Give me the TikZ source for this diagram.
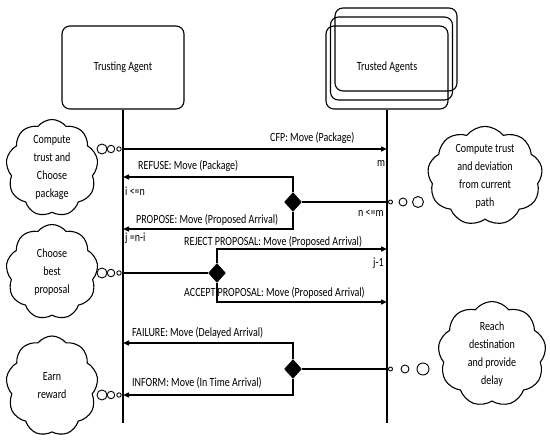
\documentclass[tikz,border=0pt]{standalone}
\usepackage{fontspec}
\setmainfont[FakeStretch=0.8]{Carlito}
\usetikzlibrary{arrows.meta,positioning,shapes.geometric,shapes.symbols}

\begin{document}
\begin{tikzpicture}[
        x=1pt, y=-1pt,
        font=\fontsize{12.5}{18}\selectfont,
        agent/.style={rectangle, rounded corners=8pt, draw, line width=1.1pt,
          minimum width=122pt, minimum height=83pt},
        life/.style={line width=1.2pt},
        msg/.style={line width=1.4pt, -{Triangle[length=6pt,width=5pt]}},
        link/.style={line width=1.4pt},
        choice/.style={diamond, draw, fill=black, inner sep=0pt,
          minimum width=17pt, minimum height=19pt},
        thought/.style={cloud, cloud puffs=9, cloud puff arc=105, cloud ignores aspect,
          draw, line width=1.1pt, align=center, inner sep=0pt},
        bub/.style={circle, draw, line width=0.9pt, inner sep=0pt},
        lbl/.style={anchor=west, inner sep=0pt}
      ]
        \useasboundingbox (0,0) rectangle (550,447);
        \node[agent] (trusting) at (123,67.5) {Trusting Agent};
        \node[agent] (trusted3) at (396,49.5) {};
        \node[agent] (trusted2) at (391.5,58.5) {};
        \node[agent] (trusted) at (387,67.5) {Trusted Agents};
        \coordinate (tend) at (123,423);
        \coordinate (dend) at (387,423);
        \draw[life] (trusting.south) -- (tend);
        \draw[life] (trusted.south) -- (dend);

        \node[choice] (d1) at (293,202) {};
        \node[choice] (d2) at (217,273) {};
        \node[choice] (d3) at (293,369) {};

        \coordinate (cfpL) at (123,149);
        \coordinate (cfpR) at (387,149);
        \coordinate (refL) at (123,177);
        \coordinate (d1R) at (387,202);
        \coordinate (propL) at (123,229);
        \coordinate (rejR) at (387,249);
        \coordinate (d2L) at (123,273);
        \coordinate (accR) at (387,302);
        \coordinate (failL) at (123,343);
        \coordinate (d3R) at (387,369);
        \coordinate (infL) at (123,395);

        \draw[msg] (cfpL) -- (cfpR);
        \draw[msg] (d1.north) |- (refL);
        \draw[msg] (d1.south) |- (propL);
        \draw[link] (d1.east) -- (d1R);
        \draw[msg] (d2.north) |- (rejR);
        \draw[msg] (d2.south) |- (accR);
        \draw[link] (d2L) -- (d2.west);
        \draw[msg] (d3.north) |- (failL);
        \draw[msg] (d3.south) |- (infL);
        \draw[link] (d3.east) -- (d3R);

        \node[lbl] (cfp) at (270,138) {CFP: Move (Package)};
        \node[lbl] (m) at (377,163) {m};
        \node[lbl] (refuse) at (138,166) {REFUSE: Move (Package)};
        \node[lbl] (iltn) at (125,191) {i <=n};
        \node[lbl] (nltm) at (358,213) {n <=m};
        \node[lbl] (propose) at (136,220) {PROPOSE: Move (Proposed Arrival)};
        \node[lbl] (jni) at (125,238) {j =n-i};
        \node[lbl] (reject) at (184,242) {REJECT PROPOSAL: Move (Proposed Arrival)};
        \node[lbl] (jm1) at (373,263) {j-1};
        \node[lbl] (accept) at (184,293) {ACCEPT PROPOSAL: Move (Proposed Arrival)};
        \node[lbl] (failure) at (132,333) {FAILURE: Move (Delayed Arrival)};
        \node[lbl] (inform) at (132,383) {INFORM: Move (In Time Arrival)};

        \node[bub, minimum size=4.4pt] (b1a) at (119,149) {};
        \node[bub, minimum size=7.5pt] (b1b) at (111,149) {};
        \node[bub, minimum size=10pt] (b1c) at (102,149) {};
        \node[bub, minimum size=4.4pt] (b2a) at (119,273) {};
        \node[bub, minimum size=7.5pt] (b2b) at (111,273) {};
        \node[bub, minimum size=10pt] (b2c) at (102,273) {};
        \node[bub, minimum size=4.4pt] (b3a) at (119,395) {};
        \node[bub, minimum size=7.5pt] (b3b) at (111,395) {};
        \node[bub, minimum size=10pt] (b3c) at (102,395) {};
        \node[bub, minimum size=4pt] (b4a) at (390.5,202) {};
        \node[bub, minimum size=8pt] (b4b) at (403,202) {};
        \node[bub, minimum size=11pt] (b4c) at (418,202) {};
        \node[bub, minimum size=4pt] (b5a) at (390.5,369) {};
        \node[bub, minimum size=8pt] (b5b) at (405,369) {};
        \node[bub, minimum size=12pt] (b5c) at (423,369) {};

        \node[thought, minimum width=92pt, minimum height=97pt] (think1) at (52,168)
          {Compute\\trust and\\Choose\\package};
        \node[thought, minimum width=92pt, minimum height=95pt] (think2) at (52,272)
          {Choose\\best\\proposal};
        \node[thought, minimum width=92pt, minimum height=100pt] (think3) at (52,386)
          {Earn\\reward};
        \node[thought, minimum width=115pt, minimum height=97pt] (think4) at (485,176)
          {Compute trust\\and deviation\\from current\\path};
        \node[thought, minimum width=108pt, minimum height=105pt] (think5) at (492,354)
          {Reach\\destination\\and provide\\delay};
      \end{tikzpicture}
\end{document}
